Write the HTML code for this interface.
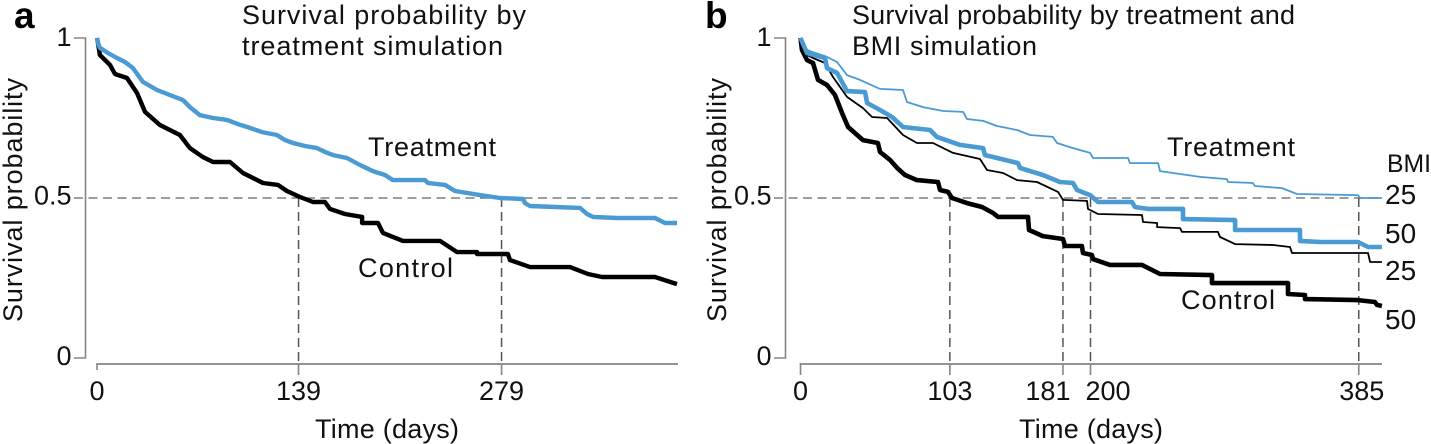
<!DOCTYPE html>
<html lang="en">
<head>
<meta charset="utf-8">
<title>Survival probability simulations</title>
<style>
html,body{margin:0;padding:0;background:#fff;}
body{width:1431px;height:444px;overflow:hidden;}
svg{display:block;}
text{font-family:"Liberation Sans",sans-serif;fill:#111;}
</style>
</head>
<body>
<svg id="figure" width="1431" height="444" viewBox="0 0 1431 444" xmlns="http://www.w3.org/2000/svg">
  <text x="14" y="28" font-size="37" font-weight="bold" style="fill:#000">a</text>
  <text x="242" y="24" font-size="27" textLength="284" lengthAdjust="spacing">Survival probability by</text>
  <text x="242" y="55" font-size="27" textLength="261" lengthAdjust="spacing">treatment simulation</text>
  <text transform="translate(22,322) rotate(-90)" font-size="27" textLength="244" lengthAdjust="spacing">Survival probability</text>
  <text x="315" y="438" font-size="27" textLength="144" lengthAdjust="spacing">Time (days)</text>
  <text x="368" y="156" font-size="27" textLength="128" lengthAdjust="spacing">Treatment</text>
  <text x="358" y="277" font-size="27" textLength="95" lengthAdjust="spacing">Control</text>

  <text x="705" y="28" font-size="37" font-weight="bold" style="fill:#000">b</text>
  <text x="852" y="24" font-size="27" textLength="443" lengthAdjust="spacing">Survival probability by treatment and</text>
  <text x="852" y="55" font-size="27" textLength="185" lengthAdjust="spacing">BMI simulation</text>
  <text transform="translate(726,322) rotate(-90)" font-size="27" textLength="244" lengthAdjust="spacing">Survival probability</text>
  <text x="1019" y="438" font-size="27" textLength="144" lengthAdjust="spacing">Time (days)</text>
  <text x="1167" y="156" font-size="27" textLength="128" lengthAdjust="spacing">Treatment</text>
  <text x="1181" y="309" font-size="27" textLength="94" lengthAdjust="spacing">Control</text>
  <text x="1387" y="172" font-size="25" textLength="44" lengthAdjust="spacingAndGlyphs">BMI</text>
  <text x="1385" y="204" font-size="28">25</text>
  <text x="1385" y="243" font-size="28">50</text>
  <text x="1385" y="280" font-size="28">25</text>
  <text x="1385" y="329" font-size="28">50</text>
</svg>
<script>
var yTickValues = [0, 0.5, 1];
var yTickLabels = ['0', '0.5', '1'];

var aXTickValues = [0, 139, 279];
var aXTickLabels = ['0', '139', '279'];
var aMedianDays = [139, 279];

var bXTickValues = [0, 103, 181, 200, 385];
var bXTickLabels = ['0', '103', '181', '200', '385'];
var bMedianDays = [103, 181, 200, 385];

var aTreatmentDays = [0,0.7,2,7.6,13.8,19.3,24.8,28.3,31.7,36.6,41.4,50.3,59.3,64.1,71,80,89.7,97.2,105.5,113.8,124.1,129.7,135.2,143.4,151.7,157.2,162.8,172.4,181.4,190.3,198.6,204.1,226.2,228.3,240,246.9,264.1,277.9,293.8,295.2,298.6,315.9,333.1,337.9,342.1,358.6,384.8,391.7,400];
var aTreatmentSurvival = [1,0.984,0.969,0.953,0.9375,0.925,0.906,0.884,0.8625,0.85,0.8375,0.822,0.806,0.784,0.759,0.75,0.744,0.731,0.719,0.706,0.697,0.681,0.672,0.6625,0.656,0.644,0.634,0.625,0.603,0.584,0.572,0.556,0.556,0.547,0.541,0.522,0.509,0.5,0.497,0.484,0.475,0.472,0.469,0.45,0.441,0.4375,0.4375,0.422,0.422];

var aControlDays = [0,0.7,2,9,12.4,20.7,27.6,33.1,43.4,57.2,64.1,73,80,91.7,100.7,114.5,124.8,131,140,149,157.2,160.7,171,182.8,182.8,193.8,197.2,211,236.6,248.3,262.1,262.1,283.4,284.8,298.6,326.2,338.6,348.3,384.8,400];
var aControlSurvival = [1,0.984,0.947,0.916,0.8875,0.875,0.828,0.769,0.728,0.697,0.656,0.628,0.6125,0.6125,0.578,0.547,0.541,0.522,0.503,0.4875,0.4875,0.466,0.45,0.441,0.422,0.422,0.391,0.366,0.366,0.331,0.331,0.325,0.325,0.306,0.284,0.284,0.2625,0.253,0.253,0.231];

var bTreatment25Days = [0,4.5,8.6,18.3,25.2,32.1,41,54.8,70.7,73.4,84.5,98.3,112.1,114.8,125.9,135.5,149.3,158.3,174.1,176.9,187.9,199.7,201.7,225.9,227.2,246.6,247.9,261.7,275.5,294.1,294.8,312,313.4,332,342.4,384.5,385.9,401];
var bTreatment25Survival = [1,0.9625,0.956,0.941,0.925,0.884,0.869,0.841,0.8375,0.8,0.784,0.772,0.769,0.747,0.741,0.725,0.7125,0.697,0.691,0.672,0.656,0.641,0.625,0.625,0.609,0.609,0.584,0.575,0.566,0.559,0.55,0.547,0.5375,0.531,0.5125,0.509,0.5,0.5];

var bTreatment50Days = [0,4.5,16.9,18.3,25.2,32.1,44.5,45.9,54.8,63.1,70.7,89.3,94.1,110,125.9,127.2,132.8,150,151.4,167.2,178.9,187.9,190.7,199.7,205.2,228.6,230.7,239.7,263.8,263.8,299.7,299.7,344.5,344.5,358.3,384.5,391.4,401];
var bTreatment50Survival = [1,0.953,0.9375,0.906,0.891,0.834,0.831,0.797,0.775,0.753,0.722,0.7125,0.691,0.666,0.656,0.634,0.628,0.609,0.594,0.572,0.55,0.547,0.525,0.509,0.4875,0.4875,0.472,0.466,0.466,0.434,0.431,0.4,0.4,0.366,0.3625,0.3625,0.347,0.347];

var bControl25Days = [0,1.7,8.6,16.9,22.4,32.1,43.1,49.3,59.7,70.7,80.3,91.4,105.2,123.8,128.6,139.7,149.3,163.1,177.6,181,197.6,198.3,205.2,235.5,236.2,245.9,245.9,261.7,263.1,287.9,289.3,299.7,325.9,337.6,339,391.4,392.8,401];
var bControl25Survival = [1,0.953,0.9375,0.922,0.878,0.816,0.781,0.753,0.75,0.697,0.672,0.672,0.641,0.622,0.5875,0.578,0.556,0.55,0.519,0.494,0.491,0.466,0.45,0.447,0.425,0.422,0.409,0.406,0.394,0.394,0.378,0.356,0.353,0.347,0.328,0.328,0.3,0.3];

var bControl50Days = [0,1,4.5,8.6,12.1,18.3,23.8,28.6,32.8,43.1,53.4,54.8,61.7,66.6,72.1,80.3,94.8,96.2,101.7,104.5,114.8,125.2,132.8,136.2,156.9,157.6,167.2,181,182.4,194.1,194.8,201,201.7,213.4,235.5,247.9,283.8,283.8,336.2,336.2,347.9,347.9,384.5,396.2,397.6,401];
var bControl50Survival = [1,0.9625,0.931,0.922,0.869,0.853,0.822,0.766,0.722,0.681,0.672,0.644,0.619,0.594,0.572,0.556,0.55,0.525,0.519,0.5,0.484,0.472,0.453,0.441,0.441,0.4,0.381,0.372,0.35,0.35,0.328,0.322,0.309,0.291,0.291,0.2625,0.259,0.234,0.234,0.2,0.197,0.184,0.181,0.175,0.166,0.1625];

var BLUE = '#4a9ad3';
var AXIS_GREY = '#858585';
var NS = 'http://www.w3.org/2000/svg';
var figure = document.getElementById('figure');

function yScale(v) { return 358 - 320 * v; }
function xScaleA(d) { return 97 + 1.45 * d; }
function xScaleB(d) { return 800.5 + 1.45 * d; }

function mk(tag, attrs) {
  var el = document.createElementNS(NS, tag);
  for (var k in attrs) { el.setAttribute(k, attrs[k]); }
  figure.appendChild(el);
  return el;
}

function linePath(days, values, xScale) {
  var d = '';
  for (var i = 0; i < days.length; i++) {
    d += (i ? 'L' : 'M') + xScale(days[i]).toFixed(1) + ' ' + yScale(values[i]).toFixed(1);
  }
  return d;
}

function drawSeries(name, days, values, xScale, color, width) {
  var el = mk('path', {d: linePath(days, values, xScale), fill: 'none', stroke: color, 'stroke-width': width, 'stroke-linejoin': 'round'});
  
  
}

function drawAxes(prefix, xScale, axisX, tickLeft, dashEnd, xTicks, xLabels, medians, labelNudge, xAxisEnd, zeroTickEnd) {
  var yAxis = mk('path', {d: 'M' + tickLeft + ' ' + yScale(1) + 'H' + axisX + 'V' + yScale(0) + 'H' + tickLeft, fill: 'none', stroke: AXIS_GREY, 'stroke-width': 1.6});
  
  

  for (var i = 0; i < yTickValues.length; i++) {
    var yLabel = mk('text', {x: tickLeft - 2.5, y: yScale(yTickValues[i]) + (i === 0 ? 7 : 6.5) + (i === 2 ? 1.5 : 0), 'font-size': 27, 'text-anchor': 'end'});
    yLabel.textContent = yTickLabels[i];
    
    
  }

  var midLine = mk('line', {x1: tickLeft, x2: dashEnd, y1: yScale(0.5), y2: yScale(0.5), stroke: '#7d7d7d', 'stroke-width': 1.6, 'stroke-dasharray': '9 5.5'});
  
  

  var xAxis = mk('line', {x1: xScale(0) - 0.8, x2: xAxisEnd, y1: 364, y2: 364, stroke: AXIS_GREY, 'stroke-width': 1.8});
  
  

  for (var t = 0; t < xTicks.length; t++) {
    var tick = mk('line', {x1: xScale(xTicks[t]), x2: xScale(xTicks[t]), y1: 364, y2: t === 0 ? zeroTickEnd : 375, stroke: AXIS_GREY, 'stroke-width': 1.6});
    
    

    var xLabel = mk('text', {x: xScale(xTicks[t]) + labelNudge[t], y: 400, 'font-size': 27, 'text-anchor': 'middle'});
    xLabel.textContent = xLabels[t];
    
    
  }

  for (var m = 0; m < medians.length; m++) {
    var drop = mk('line', {x1: xScale(medians[m]), x2: xScale(medians[m]), y1: yScale(0.5), y2: 364, stroke: '#555', 'stroke-width': 1.5, 'stroke-dasharray': '9 5'});
    
    
  }
}

drawAxes('panel-a', xScaleA, 85.5, 74, 678, aXTickValues, aXTickLabels, aMedianDays, [0, 0, 0], 678, 370);
drawAxes('panel-b', xScaleB, 785.5, 774, 1382, bXTickValues, bXTickLabels, bMedianDays, [0, 0, -15, 17.5, 3], 1382, 375);

drawSeries('panel-a-control-curve', aControlDays, aControlSurvival, xScaleA, '#000', 4.4);
drawSeries('panel-a-treatment-curve', aTreatmentDays, aTreatmentSurvival, xScaleA, BLUE, 4.4);

drawSeries('panel-b-control-bmi-25-curve', bControl25Days, bControl25Survival, xScaleB, '#000', 1.8);
drawSeries('panel-b-treatment-bmi-25-curve', bTreatment25Days, bTreatment25Survival, xScaleB, BLUE, 1.8);
drawSeries('panel-b-control-bmi-50-curve', bControl50Days, bControl50Survival, xScaleB, '#000', 4.6);
drawSeries('panel-b-treatment-bmi-50-curve', bTreatment50Days, bTreatment50Survival, xScaleB, BLUE, 4.6);
</script>
</body>
</html>
